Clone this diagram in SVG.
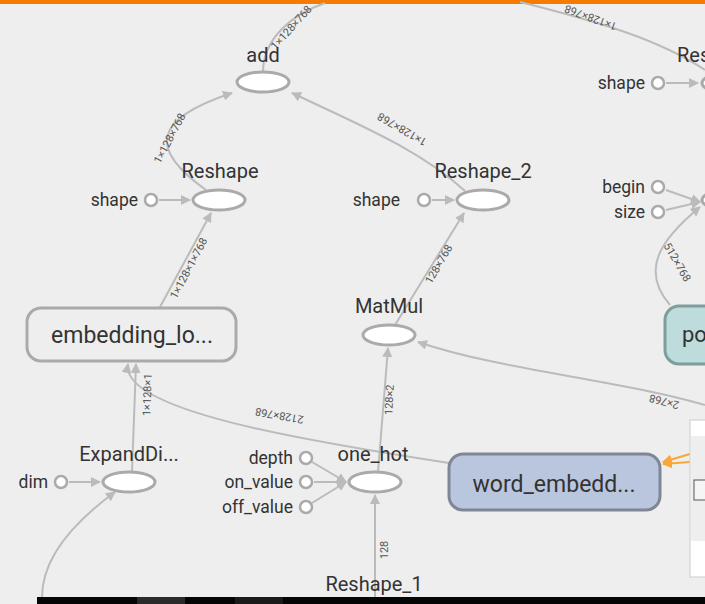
<svg xmlns="http://www.w3.org/2000/svg" width="705" height="604" viewBox="0 0 705 604">
<defs>
<marker id="ar" viewBox="0 0 10 10" refX="9" refY="5" markerWidth="5" markerHeight="5" orient="auto" markerUnits="strokeWidth"><path d="M0,0 L10,5 L0,10 z" fill="#bbb"/></marker>
<marker id="ao" viewBox="0 0 10 10" refX="9" refY="5" markerWidth="5" markerHeight="5" orient="auto" markerUnits="strokeWidth"><path d="M0,0 L10,5 L0,10 z" fill="#f9a63a"/></marker>
</defs>
<style>
text{font-family:Roboto,"Liberation Sans",sans-serif;fill:#333}
.lb{font-size:20px;text-anchor:middle}
.sm{font-size:17.5px;text-anchor:end}
.el{font-size:11px;fill:#555;text-anchor:middle}
.op{fill:#fff;stroke:#aaa;stroke-width:3}
.c{fill:#fff;stroke:#aaa;stroke-width:2.5}
.e{fill:none;stroke:#bbb;stroke-width:2;marker-end:url(#ar)}
.en{fill:none;stroke:#bbb;stroke-width:2}
</style>
<rect width="705" height="604" fill="#eeeeee"/>
<rect width="705" height="4" fill="#f57c00"/>
<rect x="37" y="597" width="668" height="7" fill="#050505"/>
<rect x="137" y="597" width="48" height="7" fill="#2a2a2a"/>
<rect x="235" y="597" width="48" height="7" fill="#1a1a1a"/>

<g id="connectors">
<path class="en" d="M263,72 C263,40 290,15 325,3"/>
<path class="en" d="M520,2 C600,22 660,40 705,70"/>
<path class="e" d="M206,190 C150,150 150,120 232,93"/>
<path class="e" d="M465,191 C420,150 360,125 292,93"/>
<path class="e" d="M160,307 L211,213"/>
<path class="e" d="M395,325 L464,213"/>
<path class="e" d="M378,472 L388,348"/>
<path class="e" d="M375,597 L375,495"/>
<path class="e" d="M132,472 L136,364"/>
<path class="e" d="M449,463 C300,440 120,410 128,364"/>
<path class="e" d="M705,405 C620,380 500,370 418,342"/>
<path class="e" d="M42,597 C42,560 70,525 115,492"/>
<path class="e" d="M670,305 C640,270 660,240 700,207"/>
<path class="e" d="M159,200 L190,200"/>
<path class="e" d="M432,200 L454,200"/>
<path class="e" d="M666,83 L698,83"/>
<path class="e" d="M666,190 L700,202"/>
<path class="e" d="M666,210 L700,202"/>
<path class="e" d="M69,482 L100,482"/>
<path class="e" d="M312,462 L346,482"/>
<path class="e" d="M314,482 L346,482"/>
<path class="e" d="M312,503 L346,482"/>
<path fill="none" stroke="#f9a63a" stroke-width="2" marker-end="url(#ao)" d="M690,454 L663,462"/>
<path fill="none" stroke="#f9a63a" stroke-width="2" marker-end="url(#ao)" d="M690,462 L663,464"/>
<text class="el" transform="translate(294,30) rotate(-48)">1×128×768</text>
<text class="el" transform="translate(173,140) rotate(-62)">1×128×768</text>
<text class="el" transform="translate(404,126) rotate(-150)">1×128×768</text>
<text class="el" transform="translate(192,270) rotate(-62)">1×128×1×768</text>
<text class="el" transform="translate(151,395) rotate(-88)">1×128×1</text>
<text class="el" transform="translate(442,266) rotate(-60)">128×768</text>
<text class="el" transform="translate(280,412) rotate(-170)">2128×768</text>
<text class="el" transform="translate(393,400) rotate(-87)">128×2</text>
<text class="el" transform="translate(388,550) rotate(-90)">128</text>
<text class="el" transform="translate(665,398) rotate(-165)">2×768</text>
<text class="el" transform="translate(674,264) rotate(60)">512×768</text>
<text class="el" transform="translate(592,14) rotate(-160)">1×128×768</text>
</g>

<g id="add"><text class="lb" x="263" y="62">add</text><ellipse class="op" cx="263" cy="82" rx="26" ry="10"/></g>
<g id="Reshape"><text class="lb" x="220" y="178">Reshape</text><ellipse class="op" cx="219" cy="200" rx="26" ry="10"/>
<circle class="c" cx="151" cy="200" r="6"/><text class="sm" x="138" y="206">shape</text></g>
<g id="Reshape_2"><text class="lb" x="483" y="178">Reshape_2</text><ellipse class="op" cx="483" cy="200" rx="26" ry="10"/>
<circle class="c" cx="424" cy="200" r="6"/><text class="sm" x="400" y="206">shape</text></g>
<g id="Res_right"><text class="lb" x="677" y="62" style="text-anchor:start">Res</text><ellipse class="op" cx="728" cy="83" rx="26" ry="10"/>
<circle class="c" cx="658" cy="83" r="6"/><text class="sm" x="645" y="89">shape</text></g>
<g id="Slice_right"><ellipse class="op" cx="728" cy="200" rx="26" ry="10"/>
<circle class="c" cx="658" cy="187" r="6"/><text class="sm" x="645" y="193">begin</text>
<circle class="c" cx="658" cy="212" r="6"/><text class="sm" x="645" y="218">size</text></g>
<g id="po"><rect x="665" y="306" width="80" height="58" rx="14" fill="#bddcdb" stroke="#7f9d9c" stroke-width="3"/><text class="lb" x="682" y="342" style="text-anchor:start;font-size:22px">po</text></g>
<g id="embedding_lookup"><rect x="27" y="308" width="209" height="53" rx="14" fill="#eeeeee" stroke="#aaa" stroke-width="3"/><text class="lb" x="132" y="343" style="font-size:23px">embedding_lo...</text></g>
<g id="MatMul"><text class="lb" x="389" y="313">MatMul</text><ellipse class="op" cx="389" cy="335" rx="26" ry="10"/></g>
<g id="ExpandDims"><text class="lb" x="129" y="461">ExpandDi...</text><ellipse class="op" cx="129" cy="482" rx="26" ry="10"/>
<circle class="c" cx="61" cy="482" r="6"/><text class="sm" x="48" y="488">dim</text></g>
<g id="one_hot"><text class="lb" x="373" y="461">one_hot</text><ellipse class="op" cx="375" cy="482" rx="26" ry="10"/>
<circle class="c" cx="306" cy="458" r="6"/><text class="sm" x="293" y="464">depth</text>
<circle class="c" cx="306" cy="482" r="6"/><text class="sm" x="293" y="488">on_value</text>
<circle class="c" cx="306" cy="507" r="6"/><text class="sm" x="293" y="513">off_value</text></g>
<g id="word_embeddings"><rect x="449" y="454" width="211" height="56" rx="14" fill="#bac5de" stroke="#7f8797" stroke-width="3"/><text class="lb" x="554" y="492" style="font-size:23px">word_embedd...</text></g>
<g id="Reshape_1"><text class="lb" x="374" y="591">Reshape_1</text></g>
<g id="panel"><rect x="690" y="420" width="20" height="157" fill="#fff" stroke="#ccc"/><rect x="691" y="436" width="14" height="105" fill="#eee"/><rect x="694" y="480" width="12" height="20" fill="#f5f5f5" stroke="#555"/></g>
</svg>
